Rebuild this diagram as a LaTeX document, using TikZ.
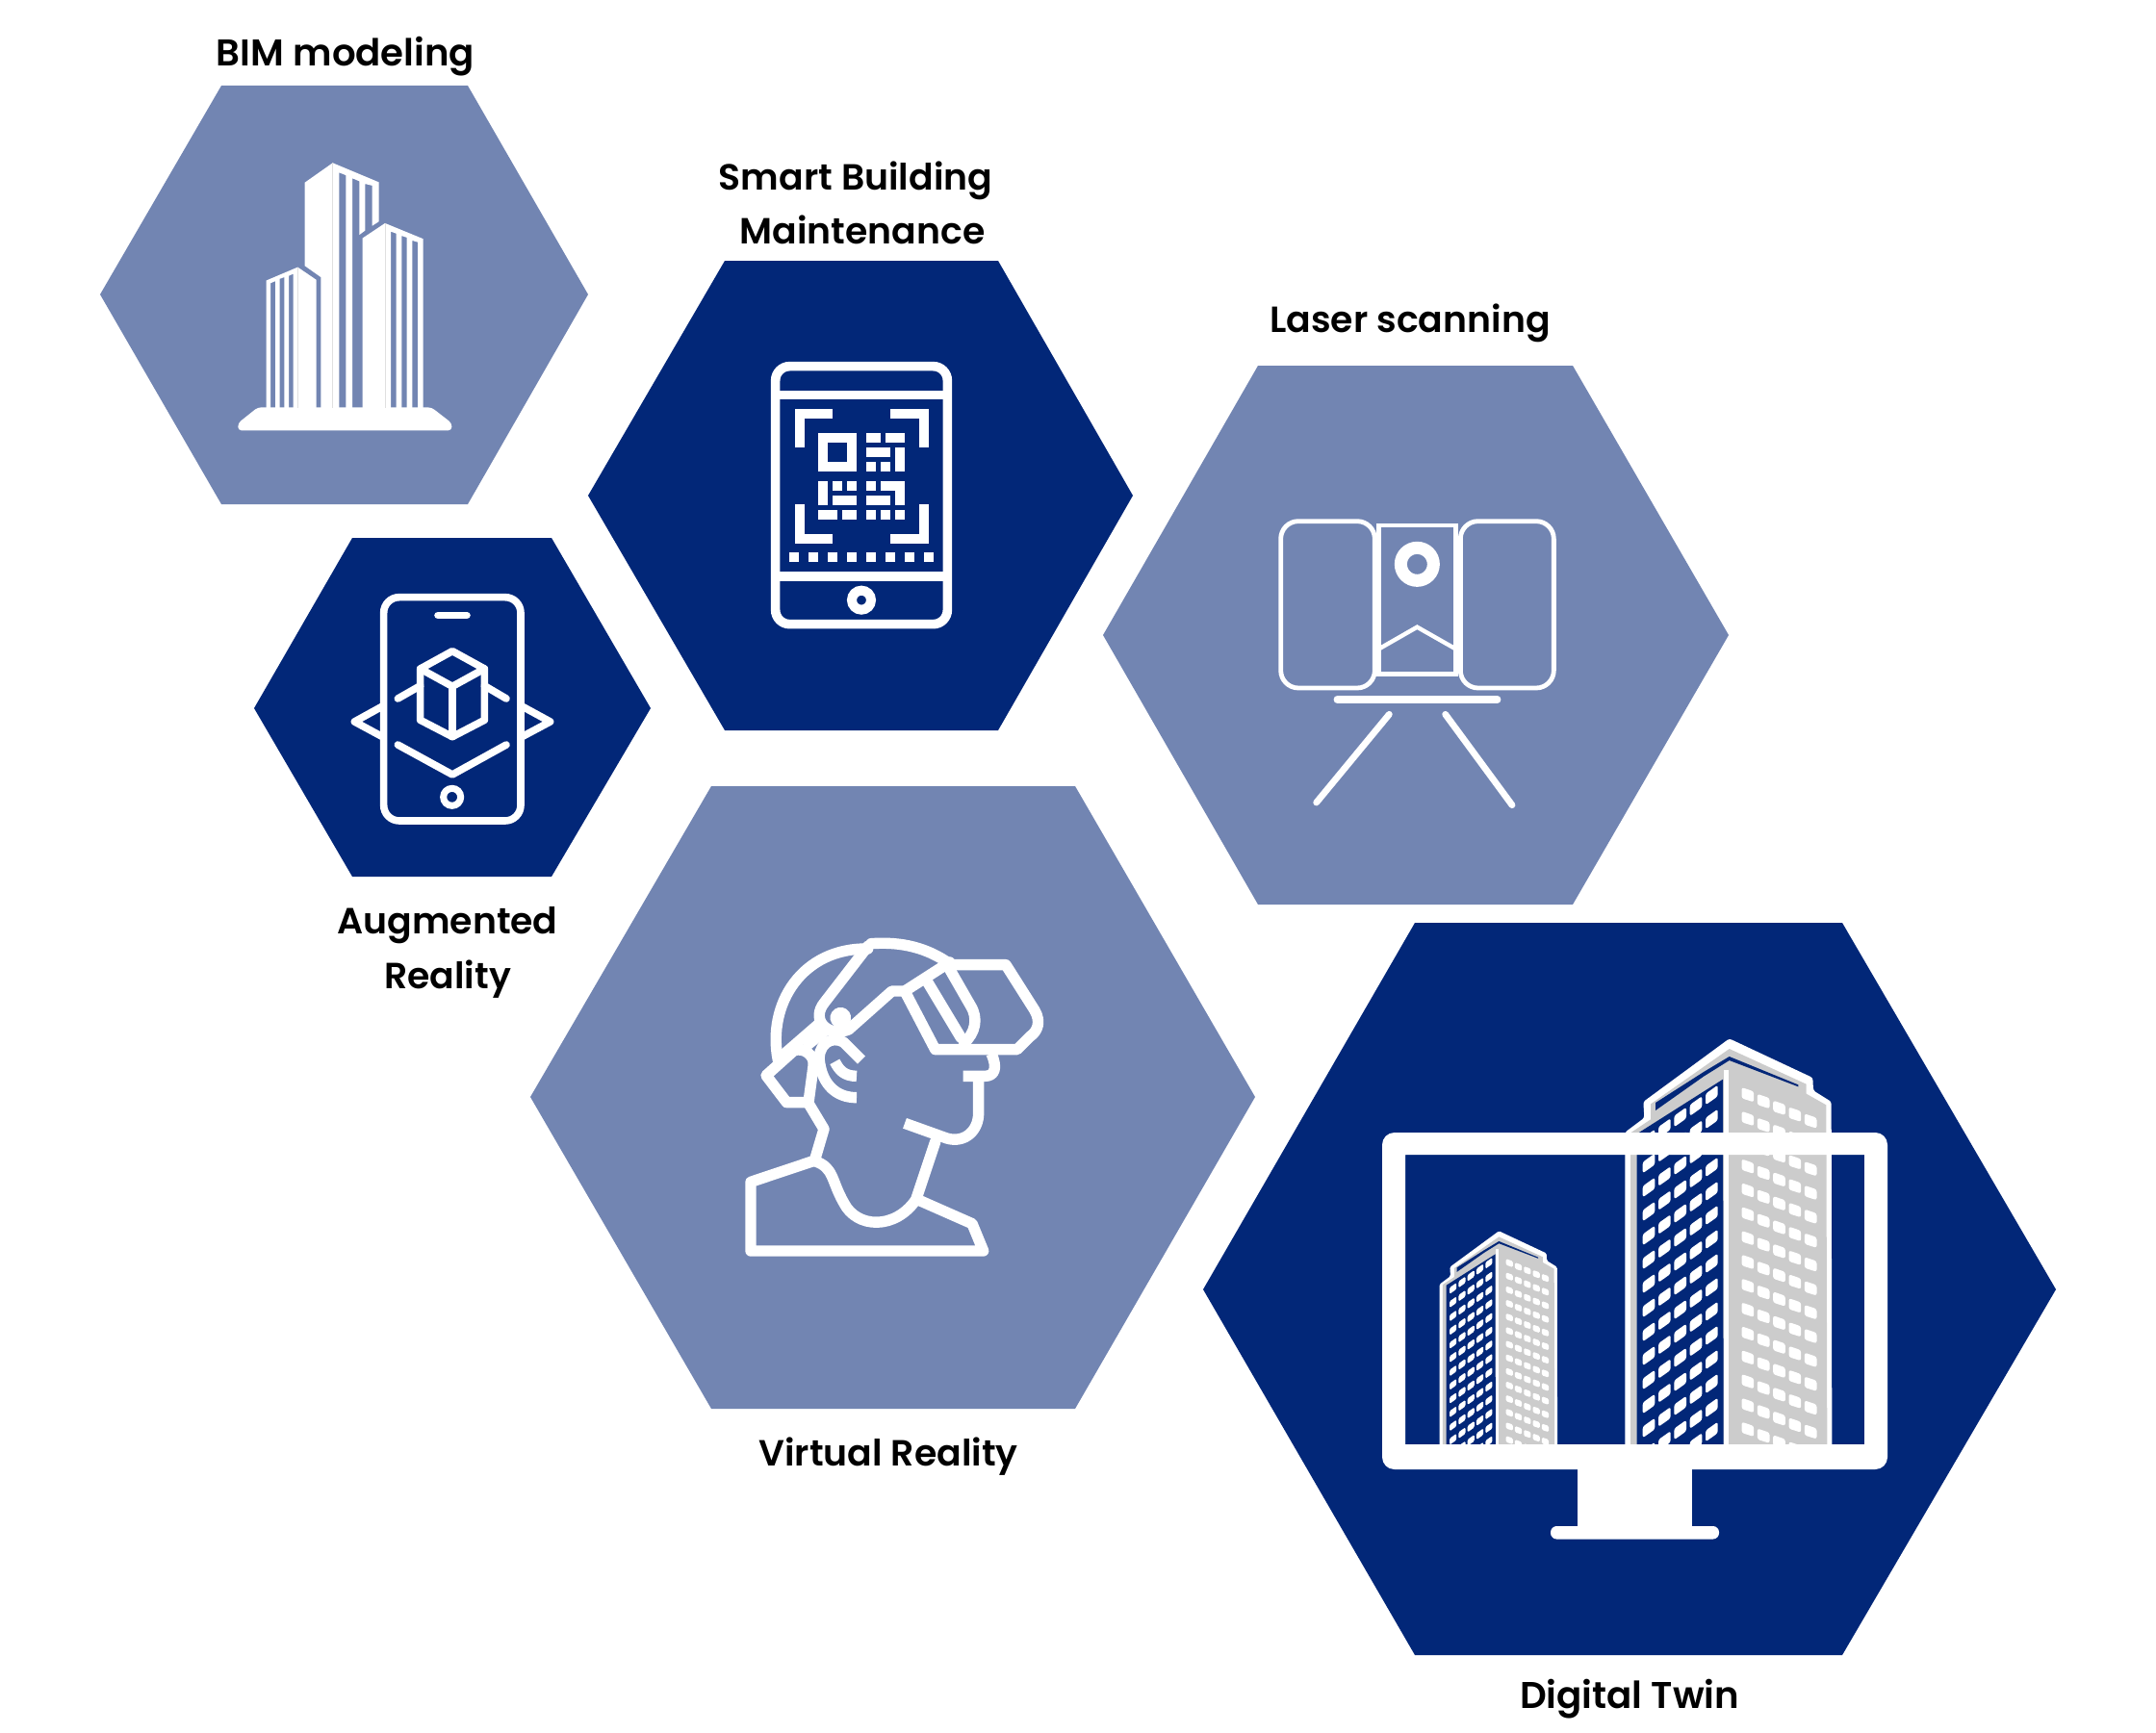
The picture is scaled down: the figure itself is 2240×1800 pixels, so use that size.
\documentclass[tikz,border=0pt]{standalone}
\usepackage{fontspec}
\setmainfont{Poppins}[BoldFont={Poppins SemiBold}]
\definecolor{hexlight}{HTML}{7285B2}
\definecolor{hexdark}{HTML}{022778}
\definecolor{towergrey}{HTML}{CCCCCC}
\tikzset{
  lbl/.style={font=\fontsize{10.75pt}{12pt}\selectfont\bfseries,text=black,inner sep=0pt,anchor=center},
  wline/.style={draw=white,line width=#1*0.2845pt,line join=round,line cap=round},
  wbutt/.style={draw=white,line width=#1*0.2845pt,line join=miter,line cap=butt},
  zoomed/.style={shift={#1},scale=0.33333}
}
\newcommand{\hexagon}[8]{\fill[#1] (#2,#7) -- (#3,#5) -- (#4,#5) -- (#8,#7) -- (#4,#6) -- (#3,#6) -- cycle;}
\newcommand{\rectf}[4]{\fill[white] (#1,#2) rectangle (#3,#4);}
\newcommand{\drawTower}[1]{%
  \fill[white,rounded corners=#1] (25,1300) -- (25,320) -- (85,275) -- (82,225) -- (350,28) -- (610,150) -- (612,190) -- (668,225) -- (670,1300) -- cycle;
  \fill[towergrey] (42,1300) -- (42,322) -- (105,280) -- (105,232) -- (350,60) -- (590,170) -- (590,200) -- (652,235) -- (655,1300) -- cycle;
  \fill[white] (333,125) rectangle (347,1300);
  \fill[hexdark] (120,228) -- (270,132) -- (350,84) -- (565,172) -- (565,178) -- (350,96) -- (270,146) -- (120,252) -- cycle;
  \begin{scope}
    \clip (62,1300) -- (62,325) -- (330,155) -- (332,1300) -- cycle;
    \fill[hexdark] (50,120) rectangle (340,1300);
    \foreach \k in {-3,...,15} \foreach \j in {0,...,4} {
      \pgfmathsetmacro{\cx}{99+49*\j}
      \pgfmathsetmacro{\cy}{417+75*\k-34.5*\j}
      \fill[white,rounded corners=#1] (\cx-19,\cy-4) -- (\cx+19,\cy-31) -- (\cx+19,\cy+4) -- (\cx-19,\cy+31) -- cycle;
    }
  \end{scope}
  \foreach \k in {0,...,15} \foreach \j in {0,...,4} {
    \pgfmathsetmacro{\cx}{407.5+49*\j}
    \pgfmathsetmacro{\cy}{203+74.5*\k+20.5*\j}
    \fill[white,rounded corners=#1] (\cx-19,\cy-23) -- (\cx+19,\cy-10) -- (\cx+19,\cy+23) -- (\cx-19,\cy+11) -- cycle;
  }
}
\begin{document}
\begin{tikzpicture}[x=0.01cm,y=-0.01cm]
\useasboundingbox (0,0) rectangle (2240,1800);
\fill[white] (0,0) rectangle (2240,1800);
% hexagons: colour, left, top-left x, top-right x, top, bottom, mid y, right
\hexagon{hexlight}{104}{230}{486}{89}{524}{306}{611}
\hexagon{hexdark}{611}{753}{1037}{271}{759}{515}{1177}
\hexagon{hexlight}{1146}{1307}{1634}{380}{940}{660}{1796}
\hexagon{hexdark}{264}{366}{573}{559}{911}{736}{676}
\hexagon{hexlight}{551}{739}{1117}{817}{1464}{1140}{1304}
\hexagon{hexdark}{1250}{1470}{1914}{959}{1720}{1340}{2136}
% labels
\node[lbl,font=\fontsize{11pt}{12pt}\selectfont\bfseries] (bim) at (359,59) {BIM modeling};
\node[lbl] (smartA) at (889,188) {Smart Building};
\node[lbl] (smartB) at (896,239) {Maintenance};
\node[lbl] (laser) at (1465,336) {Laser scanning};
\node[lbl] (arA) at (465,962) {Augmented};
\node[lbl] (arB) at (465,1018) {Reality};
\node[lbl] (vr) at (923,1514) {Virtual Reality};
\node[lbl,font=\fontsize{11pt}{12pt}\selectfont\bfseries] (dt) at (1693,1766) {Digital Twin};
% BIM building
\begin{scope}[shift={(100,0)},xscale=0.33333,yscale=0.3462]
\fill[white] (650,548) -- (737,489) -- (881,547) -- (881,665) -- (860,678) -- (860,557) -- (838,552) -- (838,692) -- (820,705) -- (820,544) -- (798,535) -- (798,1224) -- (778,1224) -- (778,526) -- (757,518) -- (757,1224) -- (700,1224) -- (700,832) -- (650,798) -- cycle;
\fill[white] (830,715) -- (900,670) -- (1019,717) -- (1019,1224) -- (1002,1224) -- (1002,727) -- (985,722) -- (985,1224) -- (968,1224) -- (968,713) -- (952,708) -- (952,1224) -- (935,1224) -- (935,701) -- (918,695) -- (918,1224) -- (830,1224) -- cycle;
\fill[white] (530,842) -- (628,802) -- (686,840) -- (686,1224) -- (614,1224) -- (614,822) -- (600,828) -- (600,1224) -- (586,1224) -- (586,832) -- (572,837) -- (572,1224) -- (558,1224) -- (558,844) -- (543,850) -- (543,1224) -- (530,1224) -- cycle;
\fill[white,rounded corners=1pt] (503,1223) -- (1045,1223) -- (1108,1270) -- (1108,1292) -- (442,1292) -- (442,1270) -- cycle;
\draw[black!12,line width=0.2pt] (737,489) -- (737,1224) (901,670) -- (901,1224) (628,802) -- (628,1224);
\end{scope}
% QR tablet
\begin{scope}[zoomed={(760,340)}]
\draw[wbutt=9.6,rounded corners=4.2pt] (137,122) rectangle (673,926);
\draw[wbutt=9.6] (137,212) -- (673,212) (137,777) -- (673,777);
\draw[wbutt=10] (212,375) -- (212,271) -- (316,271);
\draw[wbutt=10] (495,271) -- (599,271) -- (599,375);
\draw[wbutt=10] (212,553) -- (212,659) -- (316,659);
\draw[wbutt=10] (495,659) -- (599,659) -- (599,553);
\draw[wbutt=10] (286,345) rectangle (375,435);
\rectf{420}{330}{465}{360}\rectf{480}{330}{540}{360}\rectf{420}{375}{495}{405}\rectf{510}{375}{540}{450}
\rectf{420}{420}{450}{450}\rectf{465}{420}{495}{450}
\rectf{271}{480}{300}{555}\rectf{316}{480}{345}{510}\rectf{360}{480}{390}{510}\rectf{316}{525}{390}{555}
\rectf{420}{480}{450}{510}\rectf{465}{480}{540}{510}\rectf{510}{480}{540}{555}\rectf{420}{525}{495}{555}
\rectf{271}{570}{330}{600}\rectf{345}{570}{390}{600}\rectf{420}{570}{450}{600}\rectf{465}{570}{495}{600}\rectf{510}{570}{540}{600}
\foreach \dx in {181,241,300,360,420,480,539,599} {\fill[white] (\dx,703) rectangle (\dx+30,733);}
\draw[wbutt=10] (405,851) circle[radius=30];
\end{scope}
% AR phone
\begin{scope}[zoomed={(340,600)}]
\draw[wbutt=7.6,rounded corners=4.6pt] (176,62) rectangle (603,759);
\draw[wline=7.6] (345,118) -- (435,118);
\draw[wline=7.6] (390,230) -- (490,285) -- (490,445) -- (390,497) -- (290,445) -- (290,285) -- cycle;
\draw[wline=7.6] (290,285) -- (390,340) -- (490,285) (390,340) -- (390,497);
\draw[wline=7.6] (220,378) -- (290,338) (490,338) -- (558,378);
\draw[wline=7.6] (220,522) -- (390,615) -- (558,522);
\draw[wline=7.6] (172,402) -- (85,450) -- (172,497);
\draw[wline=7.6] (607,402) -- (695,450) -- (607,497);
\draw[wbutt=7] (389,685) circle[radius=27];
\end{scope}
% Laser scanner
\begin{scope}[zoomed={(1300,520)}]
\draw[wbutt=4.8,rounded corners=5.2pt] (92,65) rectangle (385,585);
\draw[wbutt=4.8,rounded corners=5.2pt] (652,65) rectangle (943,585);
\draw[wbutt=4.4] (398,78) rectangle (637,541);
\draw[wbutt=13] (517,199) circle[radius=51];
\draw[wbutt=4.4] (400,462) -- (517,395) -- (635,462);
\draw[wline=7.5] (268,621) -- (767,621);
\draw[wline=6.8] (430,667) -- (203,942);
\draw[wline=6.8] (605,667) -- (813,950);
\end{scope}
% VR head
\begin{scope}[zoomed={(760,960)}]
\tikzset{every path/.style={wline=11.4}}
\draw (145,425) .. controls (110,250) and (220,75) .. (425,78);
\draw (435,62) .. controls (530,55) and (610,75) .. (680,125);
\draw (680,128) -- (855,128) -- (945,270) .. controls (965,305) and (955,335) .. (930,352) -- (890,392) -- (635,392) -- (540,210);
\draw (425,70) -- (290,245) .. controls (245,300) and (300,355) .. (365,330) -- (500,210) -- (540,210) -- (680,120);
\draw (672,128) -- (745,255) .. controls (770,295) and (760,340) .. (725,372);
\draw (610,180) -- (715,355);
\draw (160,410) -- (275,310);
\draw (240,375) -- (290,335);
\fill[white] (340,293) circle[radius=16];
\draw (108,473) -- (195,395) .. controls (225,385) and (262,410) .. (255,445) -- (240,557) -- (172,557) -- cycle;
\draw[line cap=butt] (405,425) -- (350,370) .. controls (310,345) and (265,380) .. (275,435) .. controls (285,500) and (325,542) .. (390,542);
\draw[line cap=butt] (322,430) .. controls (335,455) and (350,475) .. (390,475);
\draw (240,560) -- (288,640) -- (260,735);
\draw (260,738) -- (60,805) -- (60,1020) -- (785,1020) -- (750,935) -- (580,860);
\draw (260,740) .. controls (320,760) and (310,800) .. (350,870) .. controls (390,950) and (510,955) .. (575,860) -- (635,680);
\draw[line cap=butt] (540,622) -- (660,665) .. controls (720,690) and (770,650) .. (770,590) -- (770,475);
\draw[line cap=butt] (722,475) -- (790,475) .. controls (820,475) and (830,450) .. (810,405);
\end{scope}
% Digital twin
\begin{scope}
  \clip (1460,900) rectangle (1937,1501);
  \begin{scope}[shift={(1680,1070)},scale=0.33333]
    \drawTower{0.7pt}
  \end{scope}
  \begin{scope}[shift={(1557.3,1279.3)},scale=0.19,shift={(-350,-28)}]
    \drawTower{0.4pt}
  \end{scope}
\end{scope}
\fill[white,even odd rule] [rounded corners=3.6pt] (1436,1177) rectangle (1961,1527) [sharp corners] (1460,1200) rectangle (1937,1501);
\fill[white] (1639,1520) rectangle (1758,1590);
\fill[white,rounded corners=1.8pt] (1611,1586) rectangle (1786,1599.5);
\end{tikzpicture}
\end{document}
